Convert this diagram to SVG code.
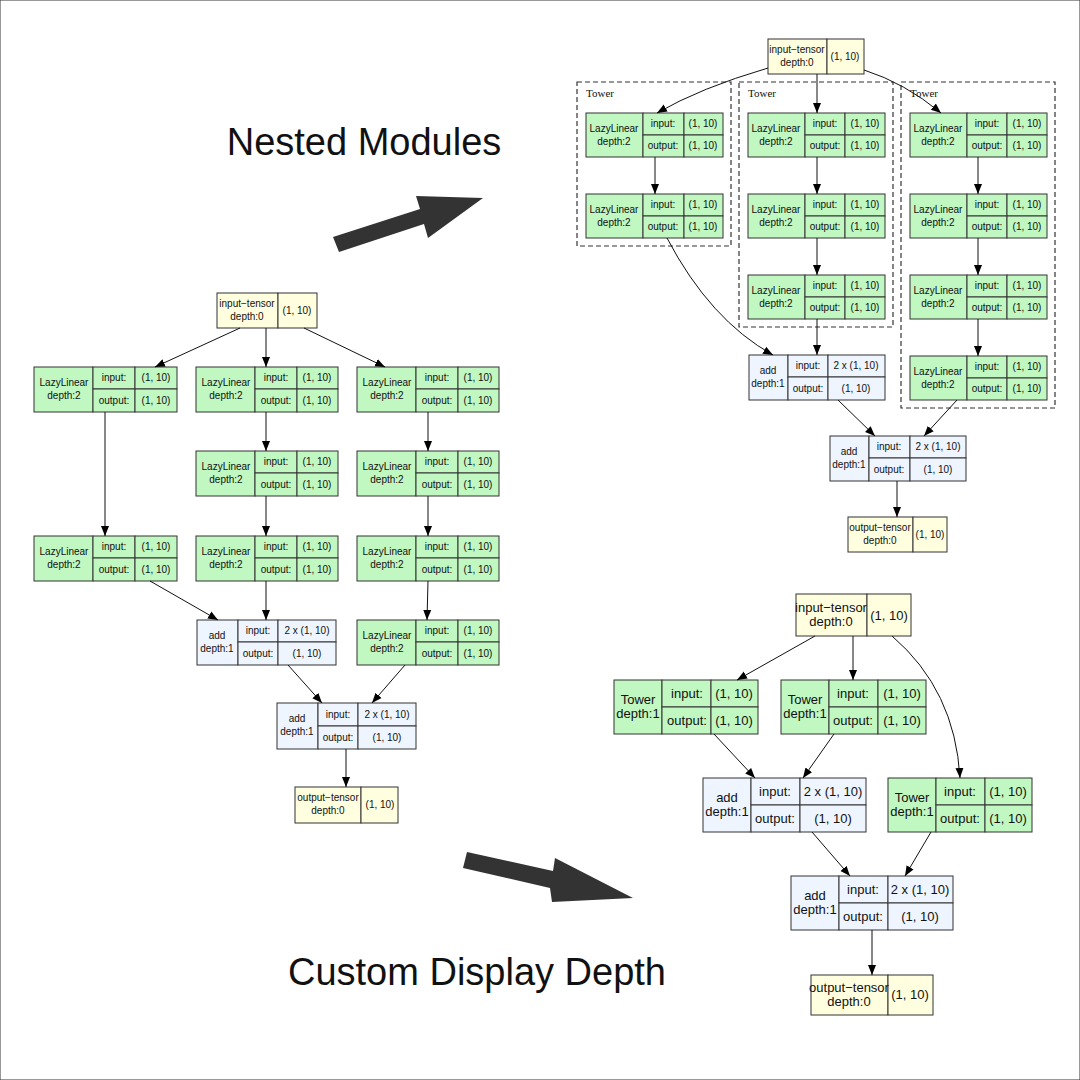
<svg xmlns="http://www.w3.org/2000/svg" width="1080" height="1080" viewBox="0 0 1080 1080">
<style>
rect{stroke:#333;stroke-width:1}
.g{fill:#c1f7c1}.y{fill:#ffffdf}.b{fill:#eef5fe}
text{font-family:"Liberation Sans","DejaVu Sans",sans-serif;fill:#111;text-anchor:middle}
.s{font-size:10px}.m{font-size:13px}
.t{font-family:"Liberation Serif",serif;font-size:11px;text-anchor:start}
.c{fill:none;stroke:#333;stroke-dasharray:5,3;stroke-width:1.2}
.e{fill:none;stroke:#111;stroke-width:1;marker-end:url(#a)}
.h{font-size:38px}
</style>
<defs>
<marker id="a" markerWidth="10" markerHeight="10" refX="10" refY="5" orient="auto" markerUnits="userSpaceOnUse"><path d="M0,1 L10,5 L0,9 Z" fill="#000"/></marker>
</defs>
<rect width="1080" height="1080" fill="#fff" stroke="none"/>
<text x="364" y="155" class="h">Nested Modules</text>
<text x="477" y="985" class="h">Custom Display Depth</text>
<polygon points="333,237 420,209 416,196 483,198 428,238 424,224 339,252" fill="#333" stroke="none"/>
<polygon points="467,852 553,871 555,858 633,898 552,902 550,888 463,868" fill="#333" stroke="none"/>

<!-- LEFT GRAPH -->
<g id="L_in"><rect class="y" x="217" y="293" width="61" height="35"/><rect class="y" x="278" y="293" width="39" height="35"/><text class="s" x="247" y="307">input−tensor</text><text class="s" x="247" y="320">depth:0</text><text class="s" x="297" y="314">(1, 10)</text></g>
<g id="L_n">
<g id="L1"><rect class="g" x="34" y="367" width="59" height="45"/><rect class="g" x="93" y="367" width="42" height="22"/><rect class="g" x="93" y="389" width="42" height="23"/><rect class="g" x="135" y="367" width="42" height="22"/><rect class="g" x="135" y="389" width="42" height="23"/><text class="s" x="64" y="386">LazyLinear</text><text class="s" x="64" y="399">depth:2</text><text class="s" x="114" y="381">input:</text><text class="s" x="114" y="404">output:</text><text class="s" x="156" y="381">(1, 10)</text><text class="s" x="156" y="404">(1, 10)</text></g>
<g id="L2"><rect class="g" x="34" y="536" width="59" height="45"/><rect class="g" x="93" y="536" width="42" height="22"/><rect class="g" x="93" y="558" width="42" height="23"/><rect class="g" x="135" y="536" width="42" height="22"/><rect class="g" x="135" y="558" width="42" height="23"/><text class="s" x="64" y="555">LazyLinear</text><text class="s" x="64" y="568">depth:2</text><text class="s" x="114" y="550">input:</text><text class="s" x="114" y="573">output:</text><text class="s" x="156" y="550">(1, 10)</text><text class="s" x="156" y="573">(1, 10)</text></g>
<g id="M1"><rect class="g" x="196" y="367" width="59" height="45"/><rect class="g" x="255" y="367" width="42" height="22"/><rect class="g" x="255" y="389" width="42" height="23"/><rect class="g" x="297" y="367" width="41" height="22"/><rect class="g" x="297" y="389" width="41" height="23"/><text class="s" x="226" y="386">LazyLinear</text><text class="s" x="226" y="399">depth:2</text><text class="s" x="276" y="381">input:</text><text class="s" x="276" y="404">output:</text><text class="s" x="317" y="381">(1, 10)</text><text class="s" x="317" y="404">(1, 10)</text></g>
<g id="M2"><rect class="g" x="196" y="451" width="59" height="45"/><rect class="g" x="255" y="451" width="42" height="22"/><rect class="g" x="255" y="473" width="42" height="23"/><rect class="g" x="297" y="451" width="41" height="22"/><rect class="g" x="297" y="473" width="41" height="23"/><text class="s" x="226" y="470">LazyLinear</text><text class="s" x="226" y="483">depth:2</text><text class="s" x="276" y="465">input:</text><text class="s" x="276" y="488">output:</text><text class="s" x="317" y="465">(1, 10)</text><text class="s" x="317" y="488">(1, 10)</text></g>
<g id="M3"><rect class="g" x="196" y="536" width="59" height="45"/><rect class="g" x="255" y="536" width="42" height="22"/><rect class="g" x="255" y="558" width="42" height="23"/><rect class="g" x="297" y="536" width="41" height="22"/><rect class="g" x="297" y="558" width="41" height="23"/><text class="s" x="226" y="555">LazyLinear</text><text class="s" x="226" y="568">depth:2</text><text class="s" x="276" y="550">input:</text><text class="s" x="276" y="573">output:</text><text class="s" x="317" y="550">(1, 10)</text><text class="s" x="317" y="573">(1, 10)</text></g>
<g id="R1"><rect class="g" x="357" y="367" width="59" height="45"/><rect class="g" x="416" y="367" width="42" height="22"/><rect class="g" x="416" y="389" width="42" height="23"/><rect class="g" x="458" y="367" width="41" height="22"/><rect class="g" x="458" y="389" width="41" height="23"/><text class="s" x="387" y="386">LazyLinear</text><text class="s" x="387" y="399">depth:2</text><text class="s" x="437" y="381">input:</text><text class="s" x="437" y="404">output:</text><text class="s" x="478" y="381">(1, 10)</text><text class="s" x="478" y="404">(1, 10)</text></g>
<g id="R2"><rect class="g" x="357" y="451" width="59" height="45"/><rect class="g" x="416" y="451" width="42" height="22"/><rect class="g" x="416" y="473" width="42" height="23"/><rect class="g" x="458" y="451" width="41" height="22"/><rect class="g" x="458" y="473" width="41" height="23"/><text class="s" x="387" y="470">LazyLinear</text><text class="s" x="387" y="483">depth:2</text><text class="s" x="437" y="465">input:</text><text class="s" x="437" y="488">output:</text><text class="s" x="478" y="465">(1, 10)</text><text class="s" x="478" y="488">(1, 10)</text></g>
<g id="R3"><rect class="g" x="357" y="536" width="59" height="45"/><rect class="g" x="416" y="536" width="42" height="22"/><rect class="g" x="416" y="558" width="42" height="23"/><rect class="g" x="458" y="536" width="41" height="22"/><rect class="g" x="458" y="558" width="41" height="23"/><text class="s" x="387" y="555">LazyLinear</text><text class="s" x="387" y="568">depth:2</text><text class="s" x="437" y="550">input:</text><text class="s" x="437" y="573">output:</text><text class="s" x="478" y="550">(1, 10)</text><text class="s" x="478" y="573">(1, 10)</text></g>
<g id="R4"><rect class="g" x="357" y="620" width="59" height="45"/><rect class="g" x="416" y="620" width="42" height="22"/><rect class="g" x="416" y="642" width="42" height="23"/><rect class="g" x="458" y="620" width="41" height="22"/><rect class="g" x="458" y="642" width="41" height="23"/><text class="s" x="387" y="639">LazyLinear</text><text class="s" x="387" y="652">depth:2</text><text class="s" x="437" y="634">input:</text><text class="s" x="437" y="657">output:</text><text class="s" x="478" y="634">(1, 10)</text><text class="s" x="478" y="657">(1, 10)</text></g>
<g id="LA1"><rect class="b" x="197" y="620" width="41" height="45"/><rect class="b" x="238" y="620" width="40" height="22"/><rect class="b" x="238" y="642" width="40" height="23"/><rect class="b" x="278" y="620" width="58" height="22"/><rect class="b" x="278" y="642" width="58" height="23"/><text class="s" x="217" y="639">add</text><text class="s" x="217" y="652">depth:1</text><text class="s" x="258" y="634">input:</text><text class="s" x="258" y="657">output:</text><text class="s" x="307" y="634">2 x (1, 10)</text><text class="s" x="307" y="657">(1, 10)</text></g>
<g id="LA2"><rect class="b" x="277" y="703" width="41" height="46"/><rect class="b" x="318" y="703" width="40" height="23"/><rect class="b" x="318" y="726" width="40" height="23"/><rect class="b" x="358" y="703" width="58" height="23"/><rect class="b" x="358" y="726" width="58" height="23"/><text class="s" x="297" y="722">add</text><text class="s" x="297" y="735">depth:1</text><text class="s" x="338" y="718">input:</text><text class="s" x="338" y="741">output:</text><text class="s" x="387" y="718">2 x (1, 10)</text><text class="s" x="387" y="741">(1, 10)</text></g>
<g id="L_out"><rect class="y" x="295" y="787" width="66" height="36"/><rect class="y" x="361" y="787" width="37" height="36"/><text class="s" x="328" y="801">output−tensor</text><text class="s" x="328" y="814">depth:0</text><text class="s" x="380" y="808">(1, 10)</text></g>
</g>

<!-- TOP RIGHT -->
<g id="clusters">
<rect class="c" x="577" y="82" width="154" height="164"/><text class="t" x="586" y="97">Tower</text>
<rect class="c" x="739" y="82" width="154" height="245"/><text class="t" x="748" y="97">Tower</text>
<rect class="c" x="901" y="82" width="154" height="326"/><text class="t" x="910" y="97">Tower</text>
</g>
<g id="T_in"><rect class="y" x="768" y="39" width="59" height="35"/><rect class="y" x="827" y="39" width="37" height="35"/><text class="s" x="797" y="53">input−tensor</text><text class="s" x="797" y="66">depth:0</text><text class="s" x="845" y="60">(1, 10)</text></g>
<g id="TA1"><rect class="g" x="586" y="113" width="57" height="44"/><rect class="g" x="643" y="113" width="41" height="22"/><rect class="g" x="643" y="135" width="41" height="22"/><rect class="g" x="684" y="113" width="39" height="22"/><rect class="g" x="684" y="135" width="39" height="22"/><text class="s" x="614" y="132">LazyLinear</text><text class="s" x="614" y="145">depth:2</text><text class="s" x="663" y="127">input:</text><text class="s" x="663" y="149">output:</text><text class="s" x="703" y="127">(1, 10)</text><text class="s" x="703" y="149">(1, 10)</text></g>
<g id="TA2"><rect class="g" x="586" y="194" width="57" height="44"/><rect class="g" x="643" y="194" width="41" height="22"/><rect class="g" x="643" y="216" width="41" height="22"/><rect class="g" x="684" y="194" width="39" height="22"/><rect class="g" x="684" y="216" width="39" height="22"/><text class="s" x="614" y="213">LazyLinear</text><text class="s" x="614" y="226">depth:2</text><text class="s" x="663" y="208">input:</text><text class="s" x="663" y="230">output:</text><text class="s" x="703" y="208">(1, 10)</text><text class="s" x="703" y="230">(1, 10)</text></g>
<g id="TB1"><rect class="g" x="748" y="113" width="57" height="44"/><rect class="g" x="805" y="113" width="40" height="22"/><rect class="g" x="805" y="135" width="40" height="22"/><rect class="g" x="845" y="113" width="40" height="22"/><rect class="g" x="845" y="135" width="40" height="22"/><text class="s" x="776" y="132">LazyLinear</text><text class="s" x="776" y="145">depth:2</text><text class="s" x="825" y="127">input:</text><text class="s" x="825" y="149">output:</text><text class="s" x="865" y="127">(1, 10)</text><text class="s" x="865" y="149">(1, 10)</text></g>
<g id="TB2"><rect class="g" x="748" y="194" width="57" height="44"/><rect class="g" x="805" y="194" width="40" height="22"/><rect class="g" x="805" y="216" width="40" height="22"/><rect class="g" x="845" y="194" width="40" height="22"/><rect class="g" x="845" y="216" width="40" height="22"/><text class="s" x="776" y="213">LazyLinear</text><text class="s" x="776" y="226">depth:2</text><text class="s" x="825" y="208">input:</text><text class="s" x="825" y="230">output:</text><text class="s" x="865" y="208">(1, 10)</text><text class="s" x="865" y="230">(1, 10)</text></g>
<g id="TB3"><rect class="g" x="748" y="275" width="57" height="44"/><rect class="g" x="805" y="275" width="40" height="22"/><rect class="g" x="805" y="297" width="40" height="22"/><rect class="g" x="845" y="275" width="40" height="22"/><rect class="g" x="845" y="297" width="40" height="22"/><text class="s" x="776" y="294">LazyLinear</text><text class="s" x="776" y="307">depth:2</text><text class="s" x="825" y="289">input:</text><text class="s" x="825" y="311">output:</text><text class="s" x="865" y="289">(1, 10)</text><text class="s" x="865" y="311">(1, 10)</text></g>
<g id="TC1"><rect class="g" x="910" y="113" width="57" height="44"/><rect class="g" x="967" y="113" width="40" height="22"/><rect class="g" x="967" y="135" width="40" height="22"/><rect class="g" x="1007" y="113" width="40" height="22"/><rect class="g" x="1007" y="135" width="40" height="22"/><text class="s" x="938" y="132">LazyLinear</text><text class="s" x="938" y="145">depth:2</text><text class="s" x="987" y="127">input:</text><text class="s" x="987" y="149">output:</text><text class="s" x="1027" y="127">(1, 10)</text><text class="s" x="1027" y="149">(1, 10)</text></g>
<g id="TC2"><rect class="g" x="910" y="194" width="57" height="44"/><rect class="g" x="967" y="194" width="40" height="22"/><rect class="g" x="967" y="216" width="40" height="22"/><rect class="g" x="1007" y="194" width="40" height="22"/><rect class="g" x="1007" y="216" width="40" height="22"/><text class="s" x="938" y="213">LazyLinear</text><text class="s" x="938" y="226">depth:2</text><text class="s" x="987" y="208">input:</text><text class="s" x="987" y="230">output:</text><text class="s" x="1027" y="208">(1, 10)</text><text class="s" x="1027" y="230">(1, 10)</text></g>
<g id="TC3"><rect class="g" x="910" y="275" width="57" height="44"/><rect class="g" x="967" y="275" width="40" height="22"/><rect class="g" x="967" y="297" width="40" height="22"/><rect class="g" x="1007" y="275" width="40" height="22"/><rect class="g" x="1007" y="297" width="40" height="22"/><text class="s" x="938" y="294">LazyLinear</text><text class="s" x="938" y="307">depth:2</text><text class="s" x="987" y="289">input:</text><text class="s" x="987" y="311">output:</text><text class="s" x="1027" y="289">(1, 10)</text><text class="s" x="1027" y="311">(1, 10)</text></g>
<g id="TC4"><rect class="g" x="910" y="356" width="57" height="44"/><rect class="g" x="967" y="356" width="40" height="22"/><rect class="g" x="967" y="378" width="40" height="22"/><rect class="g" x="1007" y="356" width="40" height="22"/><rect class="g" x="1007" y="378" width="40" height="22"/><text class="s" x="938" y="375">LazyLinear</text><text class="s" x="938" y="388">depth:2</text><text class="s" x="987" y="370">input:</text><text class="s" x="987" y="392">output:</text><text class="s" x="1027" y="370">(1, 10)</text><text class="s" x="1027" y="392">(1, 10)</text></g>
<g id="TAdd1"><rect class="b" x="749" y="355" width="39" height="45"/><rect class="b" x="788" y="355" width="40" height="22"/><rect class="b" x="788" y="377" width="40" height="23"/><rect class="b" x="828" y="355" width="57" height="22"/><rect class="b" x="828" y="377" width="57" height="23"/><text class="s" x="768" y="374">add</text><text class="s" x="768" y="387">depth:1</text><text class="s" x="808" y="369">input:</text><text class="s" x="808" y="392">output:</text><text class="s" x="856" y="369">2 x (1, 10)</text><text class="s" x="856" y="392">(1, 10)</text></g>
<g id="TAdd2"><rect class="b" x="830" y="436" width="39" height="45"/><rect class="b" x="869" y="436" width="41" height="22"/><rect class="b" x="869" y="458" width="41" height="23"/><rect class="b" x="910" y="436" width="56" height="22"/><rect class="b" x="910" y="458" width="56" height="23"/><text class="s" x="849" y="455">add</text><text class="s" x="849" y="468">depth:1</text><text class="s" x="889" y="450">input:</text><text class="s" x="889" y="473">output:</text><text class="s" x="938" y="450">2 x (1, 10)</text><text class="s" x="938" y="473">(1, 10)</text></g>
<g id="T_out"><rect class="y" x="848" y="517" width="65" height="35"/><rect class="y" x="913" y="517" width="34" height="35"/><text class="s" x="880" y="531">output−tensor</text><text class="s" x="880" y="544">depth:0</text><text class="s" x="930" y="538">(1, 10)</text></g>

<!-- BOTTOM RIGHT -->
<g id="B_in"><rect class="y" x="796" y="594" width="71" height="42"/><rect class="y" x="867" y="594" width="44" height="42"/><text class="m" x="831" y="612">input−tensor</text><text class="m" x="831" y="626">depth:0</text><text class="m" x="889" y="620">(1, 10)</text></g>
<g id="BT1"><rect class="g" x="614" y="680" width="48" height="54"/><rect class="g" x="662" y="680" width="49" height="27"/><rect class="g" x="662" y="707" width="49" height="27"/><rect class="g" x="711" y="680" width="47" height="27"/><rect class="g" x="711" y="707" width="47" height="27"/><text class="m" x="638" y="704">Tower</text><text class="m" x="638" y="718">depth:1</text><text class="m" x="687" y="698">input:</text><text class="m" x="687" y="725">output:</text><text class="m" x="734" y="698">(1, 10)</text><text class="m" x="734" y="725">(1, 10)</text></g>
<g id="BT2"><rect class="g" x="781" y="680" width="48" height="54"/><rect class="g" x="829" y="680" width="49" height="27"/><rect class="g" x="829" y="707" width="49" height="27"/><rect class="g" x="878" y="680" width="48" height="27"/><rect class="g" x="878" y="707" width="48" height="27"/><text class="m" x="805" y="704">Tower</text><text class="m" x="805" y="718">depth:1</text><text class="m" x="853" y="698">input:</text><text class="m" x="853" y="725">output:</text><text class="m" x="902" y="698">(1, 10)</text><text class="m" x="902" y="725">(1, 10)</text></g>
<g id="BT3"><rect class="g" x="888" y="778" width="48" height="54"/><rect class="g" x="936" y="778" width="49" height="27"/><rect class="g" x="936" y="805" width="49" height="27"/><rect class="g" x="985" y="778" width="47" height="27"/><rect class="g" x="985" y="805" width="47" height="27"/><text class="m" x="912" y="802">Tower</text><text class="m" x="912" y="816">depth:1</text><text class="m" x="960" y="796">input:</text><text class="m" x="960" y="823">output:</text><text class="m" x="1008" y="796">(1, 10)</text><text class="m" x="1008" y="823">(1, 10)</text></g>
<g id="BA1"><rect class="b" x="703" y="778" width="48" height="54"/><rect class="b" x="751" y="778" width="49" height="27"/><rect class="b" x="751" y="805" width="49" height="27"/><rect class="b" x="800" y="778" width="66" height="27"/><rect class="b" x="800" y="805" width="66" height="27"/><text class="m" x="727" y="802">add</text><text class="m" x="727" y="816">depth:1</text><text class="m" x="775" y="796">input:</text><text class="m" x="775" y="823">output:</text><text class="m" x="833" y="796">2 x (1, 10)</text><text class="m" x="833" y="823">(1, 10)</text></g>
<g id="BA2"><rect class="b" x="791" y="876" width="48" height="54"/><rect class="b" x="839" y="876" width="49" height="27"/><rect class="b" x="839" y="903" width="49" height="27"/><rect class="b" x="888" y="876" width="65" height="27"/><rect class="b" x="888" y="903" width="65" height="27"/><text class="m" x="815" y="900">add</text><text class="m" x="815" y="914">depth:1</text><text class="m" x="863" y="894">input:</text><text class="m" x="863" y="921">output:</text><text class="m" x="920" y="894">2 x (1, 10)</text><text class="m" x="920" y="921">(1, 10)</text></g>
<g id="B_out"><rect class="y" x="811" y="975" width="77" height="40"/><rect class="y" x="888" y="975" width="45" height="40"/><text class="m" x="849" y="992">output−tensor</text><text class="m" x="849" y="1006">depth:0</text><text class="m" x="910" y="999">(1, 10)</text></g>

<g id="connectors">
<path class="e" d="M240,328 L155,367"/><path class="e" d="M266,328 L266,367"/><path class="e" d="M304,328 L385,367"/>
<path class="e" d="M105,412 L105,536"/><path class="e" d="M266,412 L266,451"/><path class="e" d="M266,496 L266,536"/>
<path class="e" d="M428,412 L428,451"/><path class="e" d="M428,496 L428,536"/><path class="e" d="M428,581 L427,620"/>
<path class="e" d="M150,581 L218,620"/><path class="e" d="M266,581 L266,620"/>
<path class="e" d="M288,665 L322,703"/><path class="e" d="M405,665 L372,703"/><path class="e" d="M346,749 L346,787"/>
<path class="e" d="M768,68 Q700,88 657,113"/><path class="e" d="M817,74 L817,113"/><path class="e" d="M864,70 Q905,83 941,113"/>
<path class="e" d="M655,157 L655,194"/><path class="e" d="M817,157 L817,194"/><path class="e" d="M817,238 L817,275"/>
<path class="e" d="M978,157 L978,194"/><path class="e" d="M978,238 L978,275"/><path class="e" d="M978,319 L978,356"/>
<path class="e" d="M667,238 Q710,320 773,355"/><path class="e" d="M817,319 L817,355"/>
<path class="e" d="M838,400 L875,436"/><path class="e" d="M957,400 L924,436"/><path class="e" d="M897,481 L897,517"/>
<path class="e" d="M815,636 L737,680"/><path class="e" d="M853,636 L853,680"/><path class="e" d="M892,636 Q955,690 960,778"/>
<path class="e" d="M714,734 L755,778"/><path class="e" d="M834,734 L803,778"/>
<path class="e" d="M812,832 L850,876"/><path class="e" d="M931,832 L905,876"/><path class="e" d="M872,930 L872,975"/>
</g>
</svg>
